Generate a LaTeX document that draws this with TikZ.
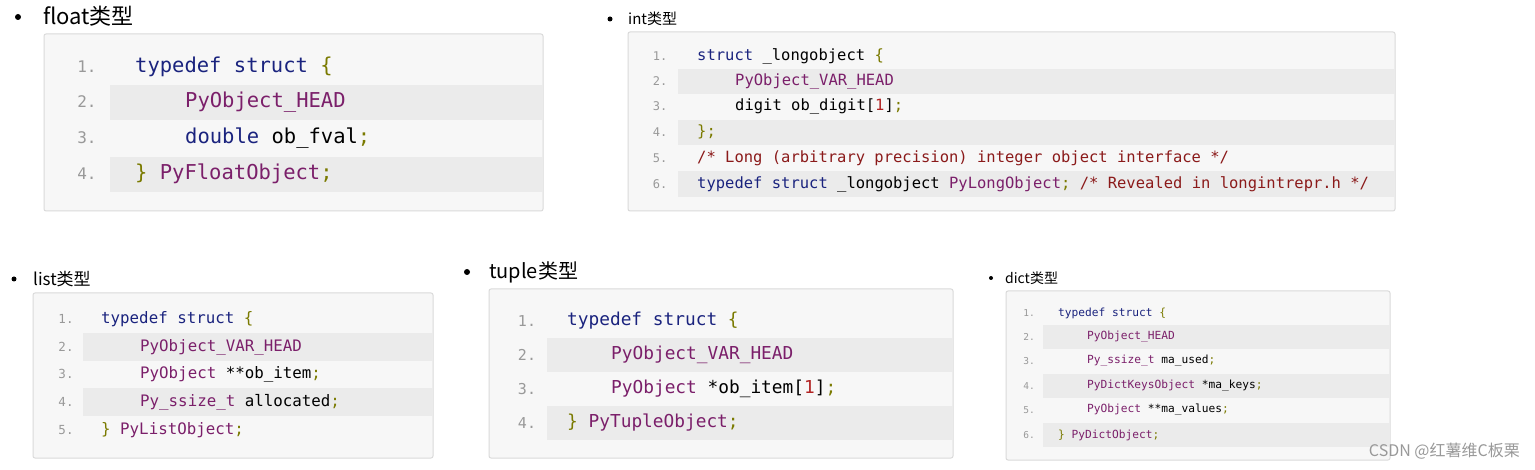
\documentclass[tikz,border=0pt]{standalone}
\usepackage{fontspec}
\setmonofont{DejaVu Sans Mono}
\newfontfamily\cjk{Noto Sans CJK SC}
\definecolor{kw}{HTML}{1A237E}
\definecolor{ty}{HTML}{7B1F6A}
\definecolor{pu}{HTML}{7A7A00}
\definecolor{cmt}{HTML}{8B1A1A}
\definecolor{num}{HTML}{B22222}
\definecolor{lnum}{HTML}{999999}
\definecolor{boxbg}{HTML}{F7F7F7}
\definecolor{boxbd}{HTML}{DADADA}
\definecolor{hl}{HTML}{EBEBEB}
\newcommand{\kw}[1]{\textcolor{kw}{#1}}
\newcommand{\ty}[1]{\textcolor{ty}{#1}}
\newcommand{\pu}[1]{\textcolor{pu}{#1}}
\newcommand{\cm}[1]{\textcolor{cmt}{#1}}
\newcommand{\nm}[1]{\textcolor{num}{#1}}
\newcommand{\mycs}{}
\newcommand{\mylns}{}
\tikzset{
  codebox/.style={fill=boxbg,draw=boxbd,line width=1pt,rounded corners=2pt},
  hlrow/.style={fill=hl,draw=none},
  ttl/.style={anchor=west,inner sep=0pt},
  bul/.style={circle,fill=black,inner sep=0pt,minimum size=6pt},
  cl/.style={anchor=west,inner sep=0pt,font=\ttfamily\mycs},
  ln/.style={anchor=center,inner sep=0pt,font=\ttfamily\mylns,text=lnum},
}
\begin{document}
\begin{tikzpicture}[x=1pt,y=-1pt]
\useasboundingbox[fill=white] (0,0) rectangle (1535,470);
% ---------- float
\node[bul] (fb) at (18,17) {};
\node[ttl,font=\cjk\fontsize{22}{22}\selectfont] (ft) at (43,16) {float类型};
\draw[codebox] (44,34) rectangle (543,211);
\fill[hlrow] (110,85) rectangle (543,120);
\fill[hlrow] (110,157) rectangle (543,192);
\renewcommand{\mycs}{\fontsize{20.5}{20.5}\selectfont}
\renewcommand{\mylns}{\fontsize{16}{16}\selectfont}
\foreach \i/\y in {1/67,2/102,3/138,4/174}{\node[ln] (fn\i) at (87,\y) {\i.};}
\node[cl] (f1) at (135,67) {\kw{typedef struct} \pu{\{}};
\node[cl] (f2) at (185,102) {\ty{PyObject\_HEAD}};
\node[cl] (f3) at (185,138) {\kw{double} ob\_fval\pu{;}};
\node[cl] (f4) at (135,174) {\pu{\}} \ty{PyFloatObject}\pu{;}};
% ---------- int
\node[bul,minimum size=5pt] (ib) at (610,19) {};
\node[ttl,font=\cjk\fontsize{15}{15}\selectfont] (it) at (628,19) {int类型};
\draw[codebox] (628,32) rectangle (1395,211);
\fill[hlrow] (678,69) rectangle (1395,94);
\fill[hlrow] (678,120) rectangle (1395,145);
\fill[hlrow] (678,171) rectangle (1395,197);
\renewcommand{\mycs}{\fontsize{15.5}{15.5}\selectfont}
\renewcommand{\mylns}{\fontsize{12}{12}\selectfont}
\foreach \i/\y in {1/56,2/81,3/106,4/132,5/158,6/184}{\node[ln] (in\i) at (660,\y) {\i.};}
\node[cl] (i1) at (697,56) {\kw{struct} \_longobject \pu{\{}};
\node[cl] (i2) at (735,81) {\ty{PyObject\_VAR\_HEAD}};
\node[cl] (i3) at (735,106) {digit ob\_digit[\nm{1}]\pu{;}};
\node[cl] (i4) at (697,132) {\pu{\};}};
\node[cl] (i5) at (697,158) {\cm{/* Long (arbitrary precision) integer object interface */}};
\node[cl] (i6) at (697,184) {\kw{typedef struct} \_longobject \ty{PyLongObject}\pu{;} \cm{/* Revealed in longintrepr.h */}};
% ---------- list
\node[bul,minimum size=5pt] (lb) at (14,279) {};
\node[ttl,font=\cjk\fontsize{17}{17}\selectfont] (lt) at (33,279) {list类型};
\draw[codebox] (33,293) rectangle (433,458);
\fill[hlrow] (83,333) rectangle (433,361);
\fill[hlrow] (83,388) rectangle (433,416);
\renewcommand{\mycs}{\fontsize{15.8}{15.8}\selectfont}
\renewcommand{\mylns}{\fontsize{12.5}{12.5}\selectfont}
\foreach \i/\y in {1/319,2/347,3/374,4/402,5/430}{\node[ln] (ln\i) at (66,\y) {\i.};}
\node[cl] (l1) at (101,319) {\kw{typedef struct} \pu{\{}};
\node[cl] (l2) at (140,347) {\ty{PyObject\_VAR\_HEAD}};
\node[cl] (l3) at (140,374) {\ty{PyObject} **ob\_item\pu{;}};
\node[cl] (l4) at (140,402) {\ty{Py\_ssize\_t} allocated\pu{;}};
\node[cl] (l5) at (101,430) {\pu{\}} \ty{PyListObject}\pu{;}};
% ---------- tuple
\node[bul] (tb) at (467,272) {};
\node[ttl,font=\cjk\fontsize{20}{20}\selectfont] (tt) at (489,272) {tuple类型};
\draw[codebox] (489,289) rectangle (953,458);
\fill[hlrow] (547,338) rectangle (953,372);
\fill[hlrow] (547,406) rectangle (953,440);
\renewcommand{\mycs}{\fontsize{17.8}{17.8}\selectfont}
\renewcommand{\mylns}{\fontsize{15}{15}\selectfont}
\foreach \i/\y in {1/321,2/355,3/389,4/423}{\node[ln] (tn\i) at (527,\y) {\i.};}
\node[cl] (t1) at (567,321) {\kw{typedef struct} \pu{\{}};
\node[cl] (t2) at (611,355) {\ty{PyObject\_VAR\_HEAD}};
\node[cl] (t3) at (611,389) {\ty{PyObject} *ob\_item[\nm{1}]\pu{;}};
\node[cl] (t4) at (567,423) {\pu{\}} \ty{PyTupleObject}\pu{;}};
% ---------- dict
\node[bul,minimum size=4pt] (db) at (991,278) {};
\node[ttl,font=\cjk\fontsize{14}{14}\selectfont] (dt) at (1005,278) {dict类型};
\draw[codebox] (1006,291) rectangle (1390,460);
\fill[hlrow] (1043,325) rectangle (1390,349);
\fill[hlrow] (1043,374) rectangle (1390,398);
\fill[hlrow] (1043,423) rectangle (1390,447);
\renewcommand{\mycs}{\fontsize{11.2}{11.2}\selectfont}
\renewcommand{\mylns}{\fontsize{9.5}{9.5}\selectfont}
\foreach \i/\y in {1/313,2/337,3/361,4/386,5/410,6/435}{\node[ln] (dn\i) at (1029,\y) {\i.};}
\node[cl] (d1) at (1058,313) {\kw{typedef struct} \pu{\{}};
\node[cl] (d2) at (1087,337) {\ty{PyObject\_HEAD}};
\node[cl] (d3) at (1087,361) {\ty{Py\_ssize\_t} ma\_used\pu{;}};
\node[cl] (d4) at (1087,386) {\ty{PyDictKeysObject} *ma\_keys\pu{;}};
\node[cl] (d5) at (1087,410) {\ty{PyObject} **ma\_values\pu{;}};
\node[cl] (d6) at (1058,435) {\pu{\}} \ty{PyDictObject}\pu{;}};
% watermark
\node[anchor=east,inner sep=0pt,text=gray!80,font=\cjk\fontsize{16}{16}\selectfont] (wm) at (1520,451) {CSDN @红薯维C板栗};
\end{tikzpicture}
\end{document}
